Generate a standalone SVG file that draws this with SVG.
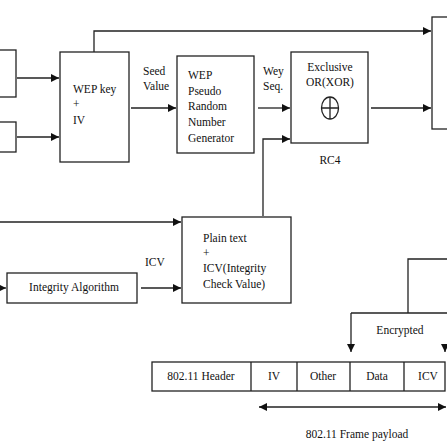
<svg xmlns="http://www.w3.org/2000/svg" width="447" height="447" viewBox="0 0 447 447">
<defs>
<marker id="ah" viewBox="0 0 10 10" refX="10" refY="5" markerWidth="8" markerHeight="8" markerUnits="userSpaceOnUse" orient="auto-start-reverse"><path d="M0,0 L10,5 L0,10 z" fill="#111"/></marker>
</defs>
<style>
.b{fill:#fff;stroke:#222;stroke-width:1.3}
.l{fill:none;stroke:#222;stroke-width:1.3}
.t{font-family:"Liberation Serif","Times New Roman",serif;font-size:11.5px;fill:#111}
.c{text-anchor:middle}
</style>
<rect width="447" height="447" fill="#fff"/>
<g id="connectors">
<path class="l" d="M17,78 H59" marker-end="url(#ah)"/>
<path class="l" d="M17,137 H59" marker-end="url(#ah)"/>
<path class="l" d="M94,52 V31 H431" marker-end="url(#ah)"/>
<path class="l" d="M131,108 H176" marker-end="url(#ah)"/>
<path class="l" d="M258,108 H290" marker-end="url(#ah)"/>
<path class="l" d="M263,216 V139 H290" marker-end="url(#ah)"/>
<path class="l" d="M371,108 H431" marker-end="url(#ah)"/>
<path class="l" d="M0,222 H181" marker-end="url(#ah)"/>
<path class="l" d="M0,288 H6" marker-end="url(#ah)"/>
<path class="l" d="M141,288 H181" marker-end="url(#ah)"/>
<path class="l" d="M408,313 V259 H447"/>
<path class="l" d="M351,313 H447"/>
<path class="l" d="M351,313 V352" stroke-width="0.8" marker-end="url(#ah)"/>
<path class="l" d="M445,345 V352" marker-end="url(#ah)"/>
<path class="l" d="M259,407 H446" marker-start="url(#ah)" marker-end="url(#ah)"/>
</g>
<g id="input1"><rect class="b" x="-10" y="50" width="26" height="47"/></g>
<g id="input2"><rect class="b" x="-10" y="122" width="26" height="30"/></g>
<g id="wepkey">
<rect class="b" x="60" y="52" width="69" height="110"/>
<text class="t" x="73" y="93">WEP key</text>
<text class="t" x="73" y="108">+</text>
<text class="t" x="73" y="124">IV</text>
</g>
<g id="seed"><text class="t" x="143" y="75">Seed</text><text class="t" x="143" y="90">Value</text></g>
<g id="prng">
<rect class="b" x="177" y="56" width="77" height="97"/>
<text class="t" x="188" y="79">WEP</text>
<text class="t" x="188" y="95">Pseudo</text>
<text class="t" x="188" y="110">Random</text>
<text class="t" x="188" y="126">Number</text>
<text class="t" x="188" y="142">Generator</text>
</g>
<g id="keyseq"><text class="t" x="263" y="75">Wey</text><text class="t" x="263" y="90">Seq.</text></g>
<g id="xor">
<rect class="b" x="291" y="52" width="77" height="91"/>
<text class="t c" x="330" y="71">Exclusive</text>
<text class="t c" x="330" y="86">OR(XOR)</text>
<ellipse cx="330" cy="108" rx="8.5" ry="11" fill="none" stroke="#222" stroke-width="1.3"/>
<path class="l" d="M321.5,108 H338.5 M330,97 V119"/>
<text class="t c" x="330" y="164">RC4</text>
</g>
<g id="output"><rect class="b" x="432" y="17" width="30" height="112"/></g>
<g id="plaintext">
<rect class="b" x="182" y="217" width="109" height="86"/>
<text class="t" x="203" y="242">Plain text</text>
<text class="t" x="203" y="257">+</text>
<text class="t" x="203" y="272">ICV(Integrity</text>
<text class="t" x="203" y="288">Check Value)</text>
</g>
<g id="icvlabel"><text class="t" x="145" y="266">ICV</text></g>
<g id="integrity">
<rect class="b" x="7" y="273" width="130" height="30"/>
<text class="t c" x="74" y="291">Integrity Algorithm</text>
</g>
<g id="encrypted"><text class="t c" x="400" y="334">Encrypted</text></g>
<g id="frame">
<rect class="b" x="152" y="362" width="293" height="29"/>
<path class="l" d="M251,362 V391 M297,362 V391 M350,362 V391 M404,362 V391"/>
<text class="t c" x="201" y="380">802.11 Header</text>
<text class="t c" x="274" y="380">IV</text>
<text class="t c" x="323" y="380">Other</text>
<text class="t c" x="377" y="380">Data</text>
<text class="t c" x="428" y="380">ICV</text>
</g>
<g id="payload"><text class="t c" x="357" y="438">802.11 Frame payload</text></g>
</svg>
